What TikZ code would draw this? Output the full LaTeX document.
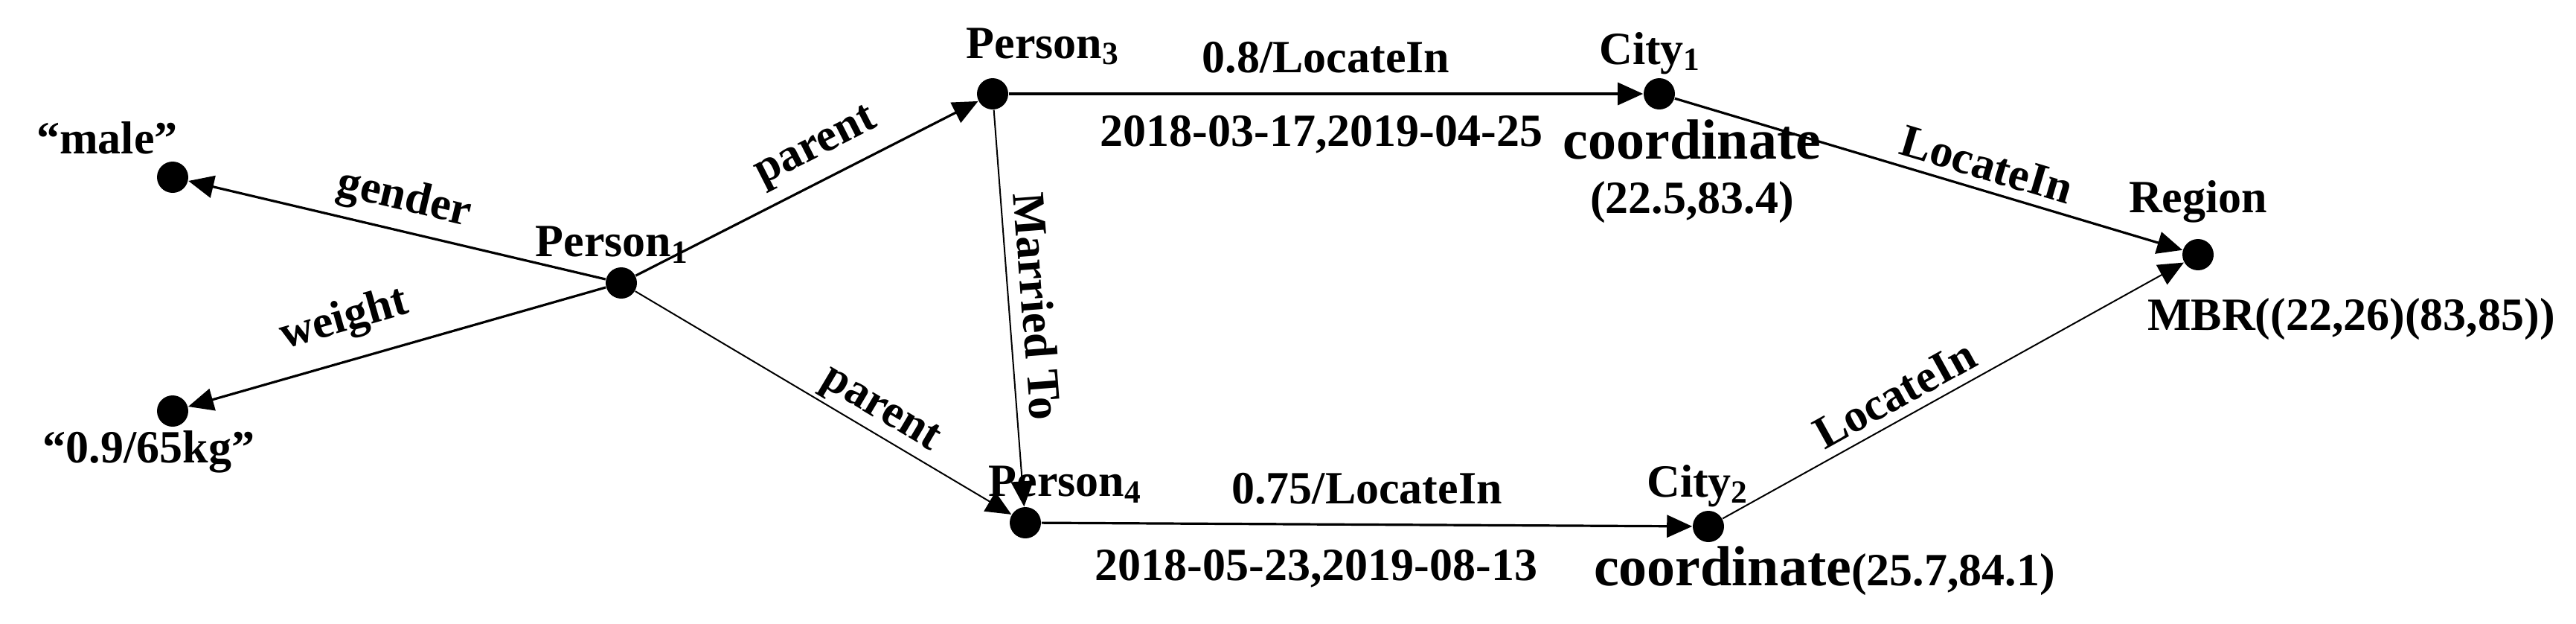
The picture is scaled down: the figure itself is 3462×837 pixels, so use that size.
\documentclass[tikz,border=0pt]{standalone}
\usepackage{fontspec}
\setmainfont{Liberation Serif}
\usetikzlibrary{arrows.meta,positioning}

\begin{document}
\begin{tikzpicture}[x=0.25pt,y=-0.25pt,
        dot/.style={circle,fill=black,inner sep=0pt,minimum size=10.5pt},
        lbl/.style={inner sep=1pt,font=\fontsize{15.5}{18}\selectfont\bfseries},
        big/.style={inner sep=1pt,font=\fontsize{19}{22}\selectfont\bfseries},
        rel/.style={-{Triangle[length=8.5pt,width=7.5pt]},line width=0.8pt},
        relthin/.style={-{Triangle[length=8.5pt,width=7.5pt]},line width=0.5pt}]
        \useasboundingbox (0,0) rectangle (3462,837);
        % entities
        \node[dot] (male) at (232,238) {};
        \node[dot] (kg) at (232,552) {};
        \node[dot] (p1) at (835,380) {};
        \node[dot] (p3) at (1334,126) {};
        \node[dot] (p4) at (1378,702) {};
        \node[dot] (c1) at (2230,126) {};
        \node[dot] (c2) at (2296,707) {};
        \node[dot] (region) at (2954,342) {};
        % names and values
        \node[lbl, above=1pt of male, xshift=-22pt] (maletxt) {``male''};
        \node[lbl, below=0pt of kg, xshift=-8pt] (kgtxt) {``0.9/65kg''};
        \node[lbl, above=0pt of p1, xshift=-3pt] (p1txt) {Person\textsubscript{1}};
        \node[lbl, above=3pt of p3, xshift=17pt] (p3txt) {Person\textsubscript{3}};
        \node[lbl, above=0pt of p4, xshift=13.5pt] (p4txt) {Person\textsubscript{4}};
        \node[lbl, above=0pt of c1, xshift=-3pt] (c1txt) {City\textsubscript{1}};
        \node[lbl, above=0pt of c2, xshift=-3.5pt] (c2txt) {City\textsubscript{2}};
        \node[lbl, above=4pt of region] (regtxt) {Region};
        \node[lbl, below=8pt of region, xshift=51.5pt] (mbr) {MBR((22,26)(83,85))};
        \node[big, below=2pt of c1, xshift=11pt] (c1coord) {coordinate};
        \node[lbl, below=5pt of c1coord] (c1val) {(22.5,83.4)};
        \node[lbl, below=0pt of c2, xshift=39pt] (c2coord) {{\fontsize{19}{22}\selectfont coordinate}(25.7,84.1)};
        % relations
        \draw[rel] (p1) -- node[lbl, sloped, above=2pt, pos=0.5] (gender) {gender} (male);
        \draw[rel] (p1) -- node[lbl, sloped, above=5pt, pos=0.6] (weight) {weight} (kg);
        \draw[rel] (p1) -- node[lbl, sloped, above=3pt, pos=0.57] (par1) {parent} (p3);
        \draw[relthin] (p1) -- node[lbl, sloped, above=0pt, pos=0.62] (par2) {parent} (p4);
        \draw[relthin] (p3) -- node[lbl, sloped, above=3pt, pos=0.5] (married) {Married To} (p4);
        \draw[rel] (p3) -- node[lbl, above=5.5pt] (w1) {0.8/LocateIn} node[lbl, below=6pt, xshift=-1.5pt] (d1) {2018-03-17,2019-04-25} (c1);
        \draw[rel] (p4) -- node[lbl, above=5.5pt] (w2) {0.75/LocateIn} node[lbl, below=7pt, xshift=-17pt] (d2) {2018-05-23,2019-08-13} (c2);
        \draw[rel] (c1) -- node[lbl, sloped, above=2pt, pos=0.6] (loc1) {LocateIn} (region);
        \draw[relthin] (c2) -- node[lbl, sloped, above=2pt, pos=0.4] (loc2) {LocateIn} (region);
\end{tikzpicture}
\end{document}
